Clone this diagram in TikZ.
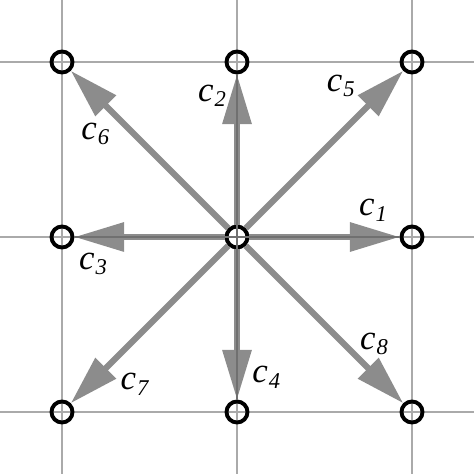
\documentclass[tikz,border=0pt]{standalone}
\usepackage{fontspec}
\setmainfont{Liberation Serif}
\usetikzlibrary{arrows.meta}
\definecolor{gridgray}{RGB}{170,170,170}
\definecolor{arrowgray}{RGB}{140,140,140}
\definecolor{stripegray}{RGB}{112,112,112}
\newcommand{\cvel}[1]{\textit{c}\kern0.5pt\raisebox{-0.35ex}{\fontsize{11}{11}\selectfont\textit{#1}}}
\tikzset{
  pt/.style={circle, draw=black, line width=1.9pt, fill=none, inner sep=0pt, minimum size=0.36cm},
  vel/.style={draw=arrowgray, line width=3pt, -{Triangle[length=0.85cm,width=0.48cm]}},
  lab/.style={font=\fontsize{17}{18}\selectfont, inner sep=0pt},
}
\begin{document}
\begin{tikzpicture}[node distance=3cm]
  \useasboundingbox (-4.063,-4.063) rectangle (4.063,4.063);
  % lattice
  \draw[gridgray, line width=1pt] (-3,-4.063) -- (-3,4.063);
  \draw[gridgray, line width=1pt] (0,-4.063) -- (0,4.063);
  \draw[gridgray, line width=1pt] (3,-4.063) -- (3,4.063);
  \draw[gridgray, line width=1pt] (-4.063,-3) -- (4.063,-3);
  \draw[gridgray, line width=1pt] (-4.063,0) -- (4.063,0);
  \draw[gridgray, line width=1pt] (-4.063,3) -- (4.063,3);
  % nodes
  \node[pt]           (o)  {};
  \node[pt, right of=o] (e)  {};
  \node[pt, above of=o] (n)  {};
  \node[pt, left of=o]  (w)  {};
  \node[pt, below of=o] (s)  {};
  \node[pt, above of=e] (ne) {};
  \node[pt, above of=w] (nw) {};
  \node[pt, below of=w] (sw) {};
  \node[pt, below of=e] (se) {};
  % velocities
  \draw[vel] (o) -- (e);
  \draw[vel] (o) -- (n);
  \draw[vel] (o) -- (w);
  \draw[vel] (o) -- (s);
  \draw[vel] (o) -- (ne);
  \draw[vel] (o) -- (nw);
  \draw[vel] (o) -- (sw);
  \draw[vel] (o) -- (se);
  \draw[stripegray, line width=0.9pt] (w) -- (e);
  \draw[stripegray, line width=0.9pt] (s) -- (n);
  % labels
  \node[lab] (c1) at (2.33,0.46)   {\cvel{1}};
  \node[lab] (c2) at (-0.43,2.42)  {\cvel{2}};
  \node[lab] (c3) at (-2.47,-0.46) {\cvel{3}};
  \node[lab] (c4) at (0.50,-2.40)  {\cvel{4}};
  \node[lab] (c5) at (1.78,2.59)   {\cvel{5}};
  \node[lab] (c6) at (-2.43,1.77)  {\cvel{6}};
  \node[lab] (c7) at (-1.75,-2.52) {\cvel{7}};
  \node[lab] (c8) at (2.35,-1.83)  {\cvel{8}};
\end{tikzpicture}
\end{document}
